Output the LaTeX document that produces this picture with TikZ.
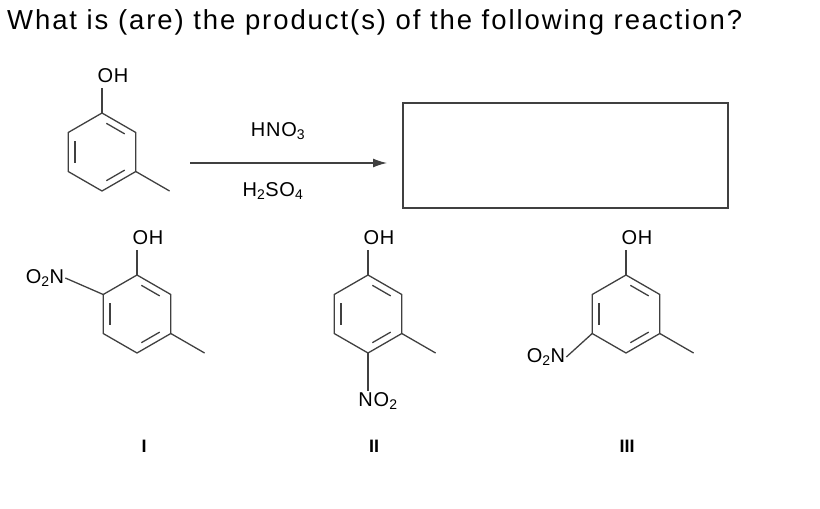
\documentclass[tikz,border=0pt]{standalone}
\usepackage{fontspec}
\setmainfont{Liberation Sans}
\usetikzlibrary{calc,arrows.meta}
\tikzset{bond/.style={line width=1.3pt,draw=black!75},
 lbl/.style={inner sep=1pt,font=\fontsize{20}{20}\selectfont\addfontfeatures{LetterSpace=4}},
 roman/.style={font=\fontsize{18}{18}\selectfont\bfseries}}
\newcommand{\mkring}[3]{%
 \coordinate (#1c) at (#2,#3);
 \coordinate (#11) at (#2,#3-39);
 \coordinate (#12) at (#2+33.8,#3-19.5);
 \coordinate (#13) at (#2+33.8,#3+19.5);
 \coordinate (#14) at (#2,#3+39);
 \coordinate (#15) at (#2-33.8,#3+19.5);
 \coordinate (#16) at (#2-33.8,#3-19.5);
 \draw[bond,line join=round] (#11)--(#12)--(#13)--(#14)--(#15)--(#16)--cycle;
 \foreach \a/\b in {1/2,3/4,5/6}{\draw[bond,shorten <=5pt,shorten >=5pt] ($(#1c)!0.8!(#1\a)$)--($(#1c)!0.8!(#1\b)$);}
 \coordinate (#1m) at ($(#13)+(33.8,19.5)$);
 \draw[bond] (#13)--(#1m);
 \node[lbl] (#1oh) at (#2+11,#3-76) {OH};
 \draw[bond] (#11)--(#2,#3-64);
}
\begin{document}
\begin{tikzpicture}[x=1pt,y=-1pt]
\useasboundingbox (0,0) rectangle (820,509);
\node[anchor=west,inner sep=0pt,font=\fontsize{27.5}{27}\selectfont\addfontfeatures{LetterSpace=7}] (title) at (7,22) {What is (are) the product(s) of the following reaction?};
\mkring{s}{102}{152}
\coordinate (a1) at (190,163); \coordinate (a2) at (387,163);
\draw[bond,-{Latex[length=14pt,width=9pt]}] (a1)--(a2);
\node[lbl] (hno3) at (278,131) {HNO\textsubscript{3}};
\node[lbl] (h2so4) at (273,191) {H\textsubscript{2}SO\textsubscript{4}};
\node[draw=black!75,line width=1.3pt,minimum width=325pt,minimum height=105pt,inner sep=0pt] (box) at (565.5,155.5) {};
% I
\mkring{p}{137}{314}
\node[lbl] (pno) at (45,278) {O\textsubscript{2}N};
\draw[bond] (p6)--(pno.east);
\node[roman] (r1) at (144,446) {I};
% II
\mkring{q}{368}{314}
\node[lbl] (qno) at (378,401) {NO\textsubscript{2}};
\draw[bond] (q4)--(qno.north-|q4);
\node[roman] (r2) at (374,446) {II};
% III
\mkring{r}{626}{314}
\node[lbl] (rno) at (546,357) {O\textsubscript{2}N};
\draw[bond] (r5)--(rno.east);
\node[roman] (r3) at (627,446) {III};
\end{tikzpicture}
\end{document}
